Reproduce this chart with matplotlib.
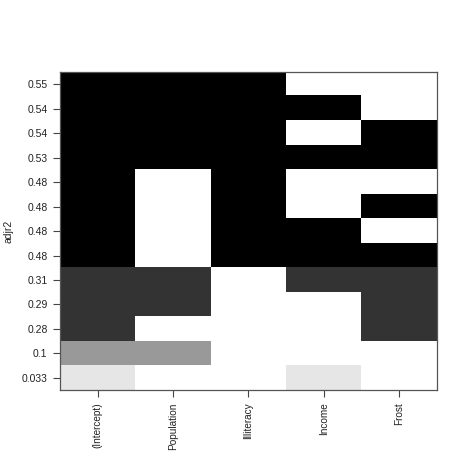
import numpy as np
import matplotlib
matplotlib.use("Agg")
import matplotlib.pyplot as plt

plt.rcParams["font.family"] = ["Liberation Sans", "DejaVu Sans"]

# variables on the x axis
variables = ["(Intercept)", "Population", "Illiteracy", "Income", "Frost"]

# adjusted R^2 labels, top row first
adjr2_labels = ["0.55", "0.54", "0.54", "0.53", "0.48", "0.48", "0.48", "0.48",
                "0.31", "0.29", "0.28", "0.1", "0.033"]

# which variables are in each model (1 = in), top row first
included = [
    [1, 1, 1, 0, 0],
    [1, 1, 1, 1, 0],
    [1, 1, 1, 0, 1],
    [1, 1, 1, 1, 1],
    [1, 0, 1, 0, 0],
    [1, 0, 1, 0, 1],
    [1, 0, 1, 1, 0],
    [1, 0, 1, 1, 1],
    [1, 1, 0, 1, 1],
    [1, 1, 0, 0, 1],
    [1, 0, 0, 0, 1],
    [1, 1, 0, 0, 0],
    [1, 0, 0, 1, 0],
]

# grey level used for each row (0 = black)
row_shade = [0, 0, 0, 0, 0, 0, 0, 0, 0.2, 0.2, 0.2, 0.6, 0.9]

inc = np.array(included)
shade = np.array(row_shade)[:, None]
grid = np.where(inc == 1, shade, 1.0)

fig = plt.figure(figsize=(4.74, 4.74), dpi=100)
ax = fig.add_axes([0.1266, 0.177, 0.795, 0.671])

ax.imshow(grid, cmap="gray", vmin=0, vmax=1, aspect="auto",
          interpolation="nearest")

ax.set_xticks(range(len(variables)))
ax.set_xticklabels(variables, rotation=90, fontsize=7.2, color="#222222")
ax.set_yticks(range(len(adjr2_labels)))
ax.set_yticklabels(adjr2_labels, fontsize=7.5, color="#222222")
ax.set_ylabel("adjr2", fontsize=7.5, color="#222222", labelpad=6)

ax.tick_params(length=5, width=0.8, color="#444444", pad=4)
for s in ax.spines.values():
    s.set_color("#555555")
    s.set_linewidth(0.9)

fig.savefig("out.png", dpi=100)
